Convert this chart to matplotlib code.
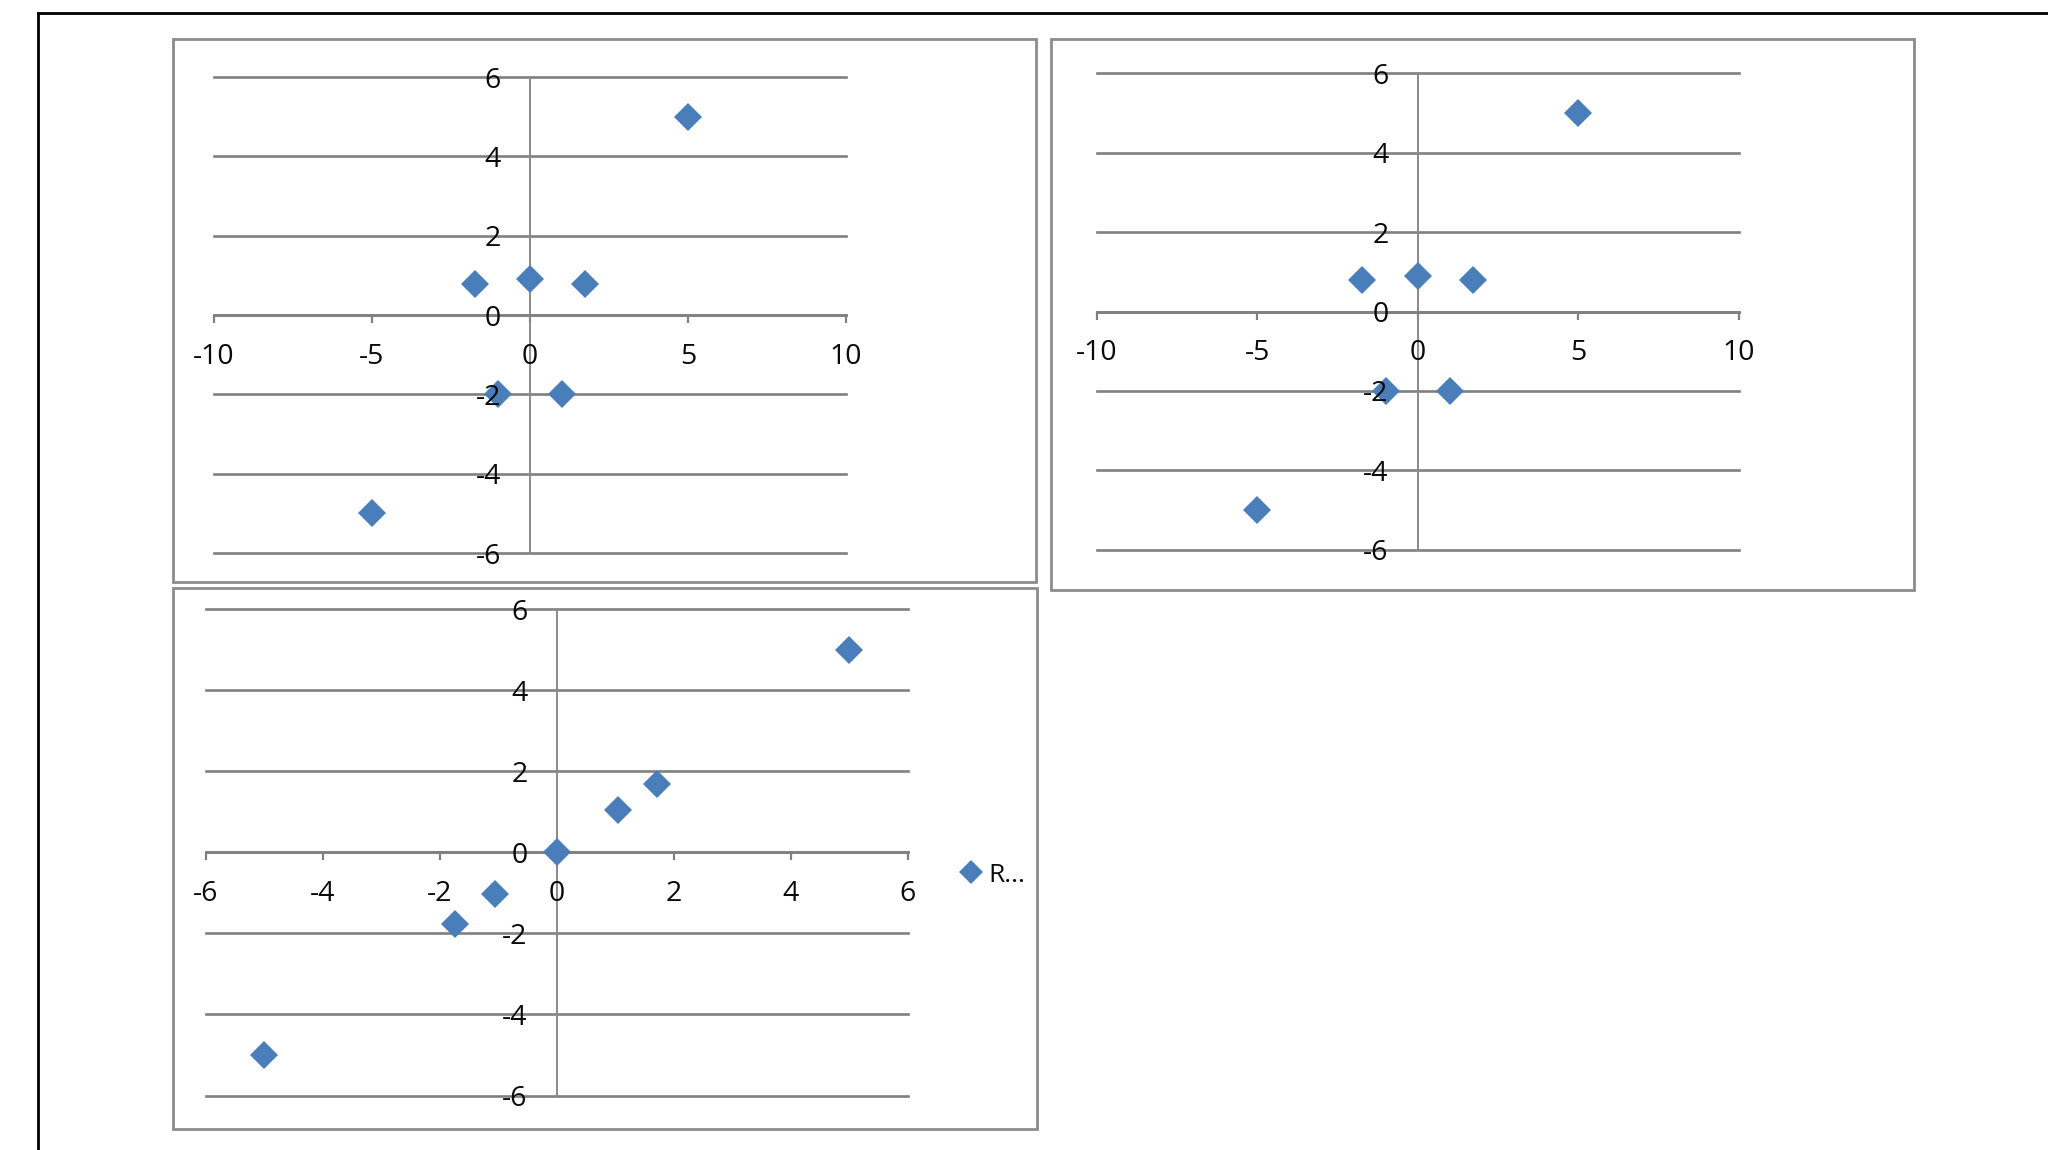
import matplotlib
matplotlib.use("Agg")
import matplotlib.pyplot as plt
from matplotlib.patches import Rectangle
from matplotlib.lines import Line2D

plt.rcParams['font.family'] = ['Open Sans', 'DejaVu Sans']
plt.rcParams['font.weight'] = 'medium'
plt.rcParams['axes.unicode_minus'] = False

# ---- data ----
x_top = [5, -1.73, 0, 1.73, -1, 1, -5]
y_top = [5, 0.79, 0.9, 0.79, -2, -2, -5]
x_bottom = [5, 1.72, 1.05, 0, -1.05, -1.73, -5]
y_bottom = [5, 1.69, 1.04, 0, -1.04, -1.76, -5]
yticks = [-6, -4, -2, 0, 2, 4, 6]
xticks_wide = [-10, -5, 0, 5, 10]
xticks_narrow = [-6, -4, -2, 0, 2, 4, 6]
legend_label = "R..."

W, H = 2048, 1150
fig = plt.figure(figsize=(W / 100, H / 100), dpi=100)
fig.patch.set_facecolor('white')

def fx(px):
    return px / W

def fy(py):
    return 1 - py / H

MARKER_COLOR = '#4A7EBB'
GRID_COLOR = '#808080'
AXIS_COLOR = '#8a8a8a'
FRAME_COLOR = '#8c8c8c'
TEXT_COLOR = '#0a0a0a'

# outer black frame (left and top edges visible)
fig.add_artist(Line2D([fx(38), fx(38)], [fy(13), 0], color='black', lw=2.0,
                      transform=fig.transFigure))
fig.add_artist(Line2D([fx(38), 1], [fy(13), fy(13)], color='black', lw=2.0,
                      transform=fig.transFigure))

def frame(l, t, r, b):
    fig.add_artist(Rectangle((fx(l), fy(b)), fx(r) - fx(l), fy(t) - fy(b),
                             transform=fig.transFigure, fill=False,
                             edgecolor=FRAME_COLOR, lw=2.0))

frame(173, 39, 1036, 582)
frame(1051, 39, 1914, 590)
frame(173, 588, 1037, 1129)


def panel(x0, x1, ytop, ybot, xlim, xticks, xs, ys, label=None):
    rect = [fx(x0), fy(ybot), fx(x1) - fx(x0), fy(ytop) - fy(ybot)]
    ax = fig.add_axes(rect)
    ax.patch.set_visible(False)
    ax.set_xlim(*xlim)
    ax.set_ylim(-6, 6)
    for s in ('top', 'right'):
        ax.spines[s].set_visible(False)
    ax.spines['left'].set_position(('data', 0))
    ax.spines['bottom'].set_position(('data', 0))
    ax.spines['left'].set_bounds(-6, 6)
    ax.spines['bottom'].set_bounds(*xlim)
    ax.spines['left'].set_color(AXIS_COLOR)
    ax.spines['left'].set_linewidth(1.4)
    ax.spines['bottom'].set_color(GRID_COLOR)
    ax.spines['bottom'].set_linewidth(1.9)
    ax.set_xticks(xticks)
    ax.set_yticks(yticks)
    ax.tick_params(axis='x', direction='out', length=5.8, width=1.6,
                   color=GRID_COLOR, labelbottom=False)
    ax.tick_params(axis='y', length=0, labelleft=False)
    ax.grid(axis='y', color=GRID_COLOR, lw=1.9)
    for gl in ax.yaxis.get_gridlines():
        gl.set_clip_on(False)
    ax.plot(xs, ys, linestyle='none', marker='D', ms=14.5, mew=0,
            color=MARKER_COLOR, zorder=3, clip_on=False, label=label)

    # overlay axes carrying the tick labels above the markers
    ov = fig.add_axes(rect, sharex=ax, sharey=ax)
    ov.patch.set_visible(False)
    for s in ('top', 'right', 'left', 'bottom'):
        ov.spines[s].set_visible(False)
    ov.spines['left'].set_position(('data', 0))
    ov.spines['bottom'].set_position(('data', 0))
    ov.set_xticks(xticks)
    ov.set_yticks(yticks)
    ov.tick_params(axis='x', length=0, pad=20, labelsize=20.5, labelcolor=TEXT_COLOR)
    ov.tick_params(axis='y', length=0, pad=21, labelsize=20.5, labelcolor=TEXT_COLOR)
    ov.set_xticklabels([str(v) for v in xticks])
    ov.set_yticklabels([str(v) for v in yticks])
    return ax

panel(214, 846, 77, 553, (-10, 10), xticks_wide, x_top, y_top)
panel(1096.6, 1738.8, 73.5, 549.6, (-10, 10), xticks_wide, x_top, y_top)
ax3 = panel(205.7, 907.7, 609.1, 1095.5, (-6, 6), xticks_narrow, x_bottom, y_bottom,
            label=legend_label)

ax3.legend(loc='center left', bbox_to_anchor=(fx(959), fy(875)),
           bbox_transform=fig.transFigure, frameon=False, fontsize=19,
           labelcolor=TEXT_COLOR,
           handlelength=0.9, handletextpad=0.2, borderpad=0, borderaxespad=0,
           numpoints=1, markerscale=0.85)

fig.savefig('out.png', dpi=100, facecolor='white')
